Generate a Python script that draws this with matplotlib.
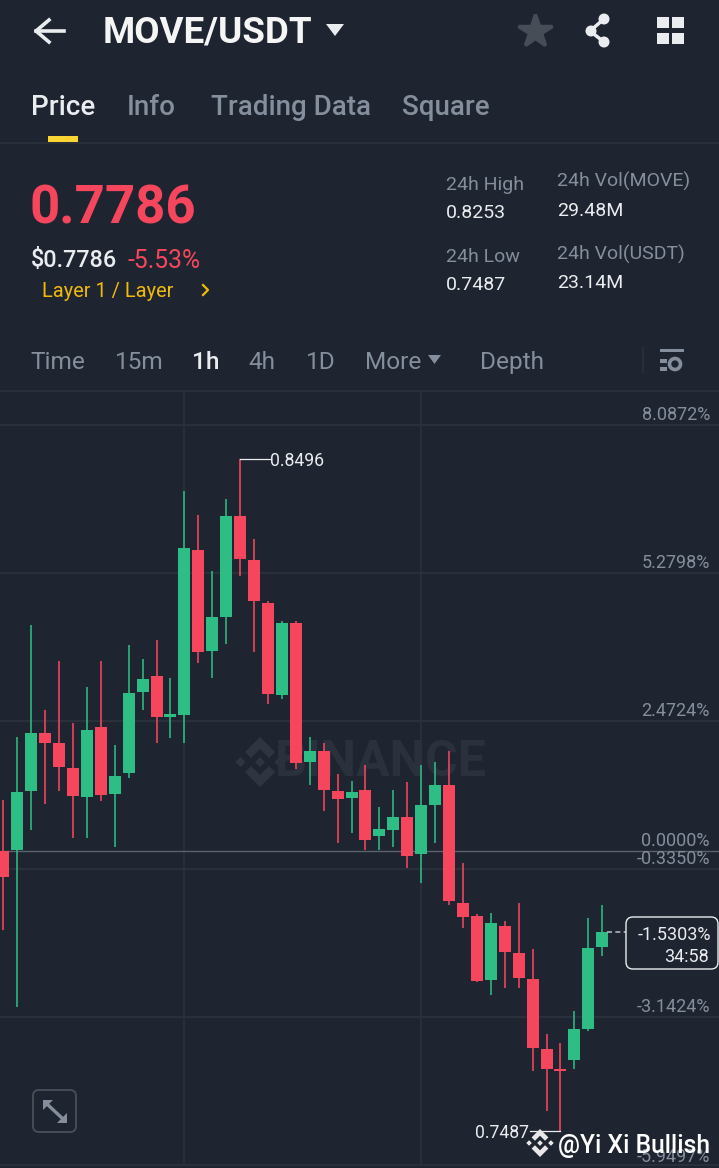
import matplotlib
matplotlib.use("Agg")
import matplotlib.pyplot as plt
from matplotlib.patches import Polygon, Rectangle, FancyBboxPatch, Circle

opens = [0.00, 0.02, 1.14, 2.24, 2.04, 1.57, 1.03, 2.36, 1.09, 1.48, 3.02,
         3.32, 2.54, 2.57, 5.71, 3.80, 4.44, 6.35, 5.52, 4.71, 2.96, 4.33,
         1.69, 1.89, 1.14, 1.01, 1.16, 0.29, 0.40, 0.64, -0.05, 0.87,
         1.25, -0.99, -1.23, -2.45, -1.42, -1.93, -2.43, -3.76, -4.15,
         -3.97, -3.37, -1.82]
closes = [-0.49, 1.12, 2.24, 2.04, 1.59, 1.05, 2.30, 1.06, 1.42, 2.99, 3.27,
          2.54, 2.59, 5.75, 3.77, 4.44, 6.35, 5.53, 4.74, 2.97, 4.33, 1.67,
          1.90, 1.16, 0.99, 1.11, 0.21, 0.42, 0.64, -0.09, 0.87, 1.26,
          -0.95, -1.25, -2.46, -1.37, -1.91, -2.41, -3.74, -4.13, -4.17,
          -3.38, -1.84, -1.54]
highs = [0.97, 2.17, 4.28, 2.67, 3.60, 2.42, 3.11, 3.60, 2.01, 3.91, 3.64,
         4.00, 3.29, 6.83, 6.38, 5.32, 6.67, 7.44, 5.91, 4.74, 4.36, 4.37,
         2.17, 2.04, 1.46, 1.32, 1.64, 0.83, 1.16, 1.30, 1.63, 1.69,
         1.89, -0.23, -1.19, -1.17, -1.32, -0.98, -1.85, -3.48, -3.64,
         -3.04, -1.27, -1.03]
lows = [-1.50, -2.96, 0.39, 0.90, 1.14, 0.25, 0.24, 0.95, 0.08, 1.39, 2.68,
        2.04, 2.15, 2.04, 3.56, 3.29, 3.93, 5.22, 3.78, 2.78, 2.89, 1.56,
        1.26, 0.75, 0.16, 0.35, 0.02, 0.02, 0.08, -0.32, -0.60, 0.16,
        -1.02, -1.47, -2.48, -2.73, -2.59, -2.59, -4.17, -4.93, -5.31,
        -4.13, -3.41, -2.00]
grid_levels = [8.0872, 5.2798, 2.4724, -0.3350, -3.1424, -5.9497]
grid_labels = ["8.0872%", "5.2798%", "2.4724%", "-0.3350%", "-3.1424%", "-5.9497%"]
vgrid = [13, 30]

BG = "#1e2530"
GREEN = "#2ebd85"
RED = "#f6465d"
GREY = "#848e9c"
WHITE = "#eaecef"
LINE = "#2b323c"

plt.rcParams["font.family"] = ["Roboto", "DejaVu Sans"]

fig = plt.figure(figsize=(7.19, 11.68), dpi=100, facecolor=BG)

# watermark layer sits under the candles
back = fig.add_axes([0, 0, 1, 1], facecolor=BG, zorder=0)
back.set_xlim(0, 719)
back.set_ylim(1168, 0)
back.axis("off")

# price chart, placed so the y scale matches the pixels of the screenshot
ax = fig.add_axes([0, 0, 1, 776 / 1168], facecolor="none", zorder=1)
ax.set_xlim(-0.237, 51.38)
ax.set_ylim(-6.013, 8.706)
ax.axis("off")

for lev in grid_levels:
    ax.axhline(lev, color=LINE, lw=1.3, zorder=1)
ax.vlines(vgrid, grid_levels[-1], 8.706, color=LINE, lw=1.2, zorder=1)
ax.axhline(0, color="#5a626e", lw=1.0, zorder=1)

for i in range(len(opens)):
    col = GREEN if closes[i] >= opens[i] else RED
    ax.vlines(i, lows[i], highs[i], color=col, lw=1.15, zorder=3)
    ax.bar(i, max(abs(closes[i] - opens[i]), 0.04), bottom=min(opens[i], closes[i]),
           width=0.86, color=col, lw=0, zorder=3)

# overlay in screenshot pixels for the app furniture
ui = fig.add_axes([0, 0, 1, 1], facecolor="none", zorder=2)
ui.set_xlim(0, 719)
ui.set_ylim(1168, 0)
ui.axis("off")


def label(x, y, s, size=15, color=GREY, weight="normal", ha="left", z=5, target=None):
    # va center lands a little high for this font
    (target or ui).text(x, y + 1.5, s, fontsize=size, color=color, fontweight=weight,
                        ha=ha, va="center", zorder=z)


def logo(target, cx, cy, r, color, z=2):
    shapes = [
        [(0, -0.2), (0.2, 0), (0, 0.2), (-0.2, 0)],
        [(0.78, -0.2), (0.98, 0), (0.78, 0.2), (0.58, 0)],
        [(-0.78, -0.2), (-0.58, 0), (-0.78, 0.2), (-0.98, 0)],
        [(0, -1), (0.6, -0.4), (0.36, -0.16), (0, -0.52), (-0.36, -0.16), (-0.6, -0.4)],
        [(0, 1), (0.6, 0.4), (0.36, 0.16), (0, 0.52), (-0.36, 0.16), (-0.6, 0.4)],
    ]
    for pts in shapes:
        target.add_patch(Polygon([(cx + a * r, cy + b * r) for a, b in pts], color=color,
                                 lw=0, zorder=z))


# header
ui.plot([36, 64], [31, 31], color=WHITE, lw=2.6)
ui.plot([49, 36, 49], [20, 31, 42], color=WHITE, lw=2.6)
label(103, 31, "MOVE/USDT", 26.5, "#f5f5f5", "bold")
ui.add_patch(Polygon([(326, 24), (344, 24), (335, 36)], color=WHITE, lw=0))
ui.plot([535], [31], marker="*", ms=25, color="#474d57", mec="#474d57", mew=2.5)
for a, b in [(604, 19), (604, 42)]:
    ui.plot([590, a], [31, b], color=WHITE, lw=2.5)
    ui.add_patch(Circle((a, b), 5.5, color=WHITE, lw=0))
ui.add_patch(Circle((591, 31), 5.5, color=WHITE, lw=0))
for a in (657, 672):
    for b in (17, 33):
        ui.add_patch(Rectangle((a, b), 12, 11, color=WHITE, lw=0))

# tabs
label(31, 106, "Price", 20, WHITE, "medium")
label(127, 106, "Info", 20, GREY, "medium")
label(211, 106, "Trading Data", 20, GREY, "medium")
label(402, 106, "Square", 20, GREY, "medium")
ui.add_patch(Rectangle((48, 136), 30, 6, color="#fcd535", lw=0))
ui.plot([0, 719], [142.5, 142.5], color=LINE, lw=1.2)

# price block
label(30, 208, "0.7786", 38, RED, "bold")
label(31, 259, "$0.7786", 16.8, WHITE, "medium")
label(127, 259, "-5.53%", 17.8, RED)
label(42, 290, "Layer 1 / Layer", 14.4, "#f0b90b")
ui.plot([203, 208, 203], [285, 290, 295], color="#f0b90b", lw=1.6)

label(446, 184, "24h High", 14)
label(446, 211, "0.8253", 14, WHITE)
label(446, 255, "24h Low", 14)
label(446, 283, "0.7487", 14, WHITE)
label(557, 180, "24h Vol(MOVE)", 14)
label(557, 209, "29.48M", 14, WHITE)
label(557, 253, "24h Vol(USDT)", 14)
label(557, 281, "23.14M", 14, WHITE)

# timeframes
for x, s in [(30, "Time"), (115, "15m"), (248, "4h"), (306, "1D"), (365, "More"), (480, "Depth")]:
    label(x, 361, s, 17.6)
label(192, 361, "1h", 17.6, WHITE, "medium")
ui.add_patch(Polygon([(428, 355), (441, 355), (434.5, 364)], color=GREY, lw=0))
ui.plot([643, 643], [348, 372], color=LINE, lw=1.2)
ui.add_patch(Rectangle((660, 349), 24, 3, color=GREY, lw=0))
ui.add_patch(Rectangle((660, 359), 7, 4, color=GREY, lw=0))
ui.add_patch(Rectangle((660, 367), 7, 4, color=GREY, lw=0))
ui.add_patch(Circle((675, 364), 5.5, fc="none", ec=GREY, lw=2.6))
ui.plot([0, 719], [391, 391], color=LINE, lw=1.2)

# axis labels
label_y = [414, 562, 710, 858, 1006, 1155]
for yy, s in zip(label_y, grid_labels):
    label(710, yy, s, 13, GREY, ha="right", target=back if s == "-5.9497%" else ui)
label(709, 840, "0.0000%", 13, GREY, ha="right")

# high / low markers
ui.plot([240, 270], [459, 459], color=WHITE, lw=0.9, zorder=4)
label(270, 459, "0.8496", 12.7, WHITE)
ui.plot([530, 559.5], [1131, 1131], color=WHITE, lw=0.9, zorder=4)
label(475, 1131, "0.7487", 12.7, WHITE)

# live price tag
ui.plot([607, 626], [932, 932], color="#aeb4bc", lw=1.2, ls=(0, (3, 2)))
ui.add_patch(FancyBboxPatch((630, 921), 84, 44, boxstyle="round,pad=4,rounding_size=7",
                            fc=BG, ec=WHITE, lw=1, zorder=4))
label(711, 934, "-1.5303%", 13, WHITE, ha="right")
label(709, 956, "34:58", 13, WHITE, ha="right")

# expand button
ui.add_patch(FancyBboxPatch((37, 1094), 35, 34, boxstyle="round,pad=4,rounding_size=6",
                            fc=BG, ec="#474d57", lw=1.4, zorder=4))
ui.plot([47, 63], [1104, 1119], color=GREY, lw=2.4, zorder=5)
ui.add_patch(Polygon([(43, 1100), (53, 1100), (43, 1110)], color=GREY, lw=0, zorder=5))
ui.add_patch(Polygon([(67, 1123), (57, 1123), (67, 1113)], color=GREY, lw=0, zorder=5))

# watermarks
logo(back, 260, 762, 25, "#2e3541")
label(275, 761, "BINANCE", 36, "#2a313c", "bold", target=back)
logo(ui, 540, 1143, 14, "#e8e8e8", z=6)
label(558, 1144, "@Yi Xi Bullish", 17.7, "#ffffff", "medium", z=6)

fig.savefig("out.png", dpi=100, facecolor=BG)
